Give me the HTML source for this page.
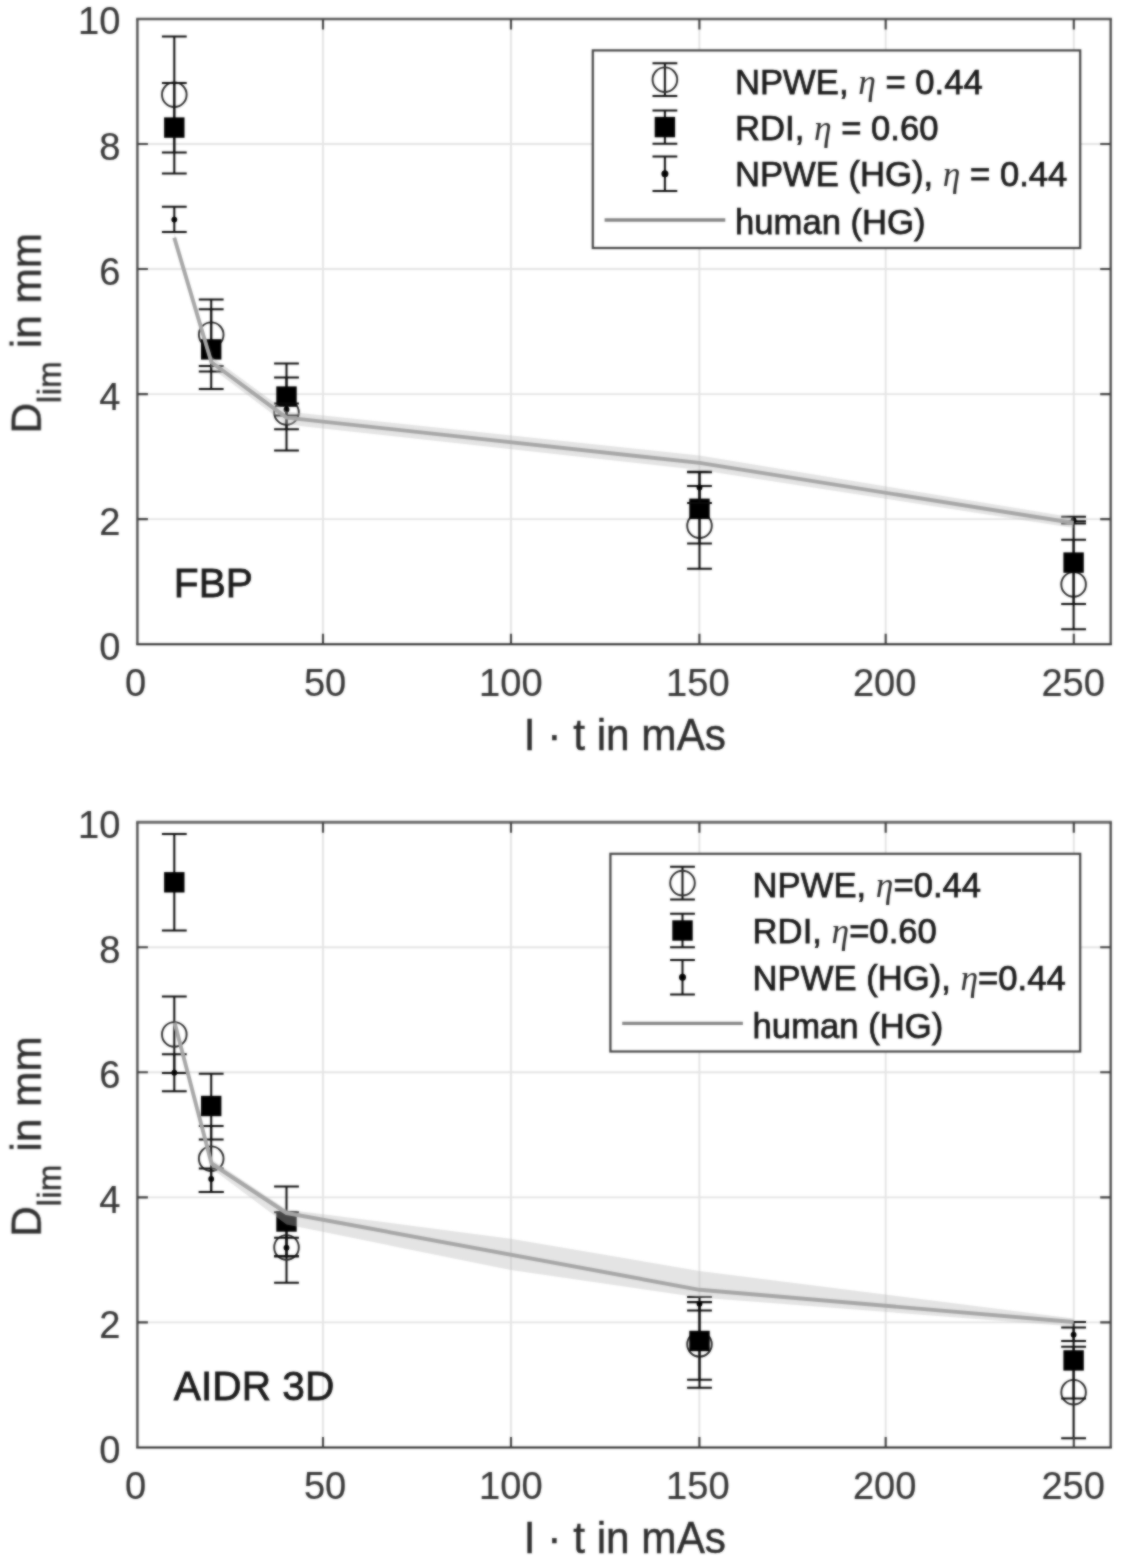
<!DOCTYPE html>
<html lang="en"><head><meta charset="utf-8"><title>Figure</title>
<style>html,body{margin:0;padding:0;background:#fff}svg{display:block}</style>
</head><body>
<svg width="1125" height="1565" viewBox="0 0 1125 1565" font-family="Liberation Sans, sans-serif" fill="#383838">
<defs><filter id="soft" x="0" y="0" width="1125" height="1565" filterUnits="userSpaceOnUse" color-interpolation-filters="sRGB"><feGaussianBlur in="SourceGraphic" stdDeviation="0.9" result="b"/><feComposite in="SourceGraphic" in2="b" operator="arithmetic" k1="0" k2="0.3" k3="0.7" k4="0"/></filter></defs>
<rect width="1125" height="1565" fill="#fff"/>
<g filter="url(#soft)">
<g>
<line x1="323.0" y1="18.9" x2="323.0" y2="644.2" stroke="#e4e4e4" stroke-width="1.9"/>
<line x1="511.0" y1="18.9" x2="511.0" y2="644.2" stroke="#e4e4e4" stroke-width="1.9"/>
<line x1="699.4" y1="18.9" x2="699.4" y2="644.2" stroke="#e4e4e4" stroke-width="1.9"/>
<line x1="885.7" y1="18.9" x2="885.7" y2="644.2" stroke="#e4e4e4" stroke-width="1.9"/>
<line x1="1073.8" y1="18.9" x2="1073.8" y2="644.2" stroke="#e4e4e4" stroke-width="1.9"/>
<line x1="137.4" y1="519.1" x2="1110.7" y2="519.1" stroke="#e4e4e4" stroke-width="1.9"/>
<line x1="137.4" y1="394.1" x2="1110.7" y2="394.1" stroke="#e4e4e4" stroke-width="1.9"/>
<line x1="137.4" y1="269.0" x2="1110.7" y2="269.0" stroke="#e4e4e4" stroke-width="1.9"/>
<line x1="137.4" y1="144.0" x2="1110.7" y2="144.0" stroke="#e4e4e4" stroke-width="1.9"/>
<path d="M174.3 152.4V36.5M161.9 152.4h24.8M161.9 36.5h24.8" stroke="#0a0a0a" stroke-width="2.0" fill="none"/>
<circle cx="174.3" cy="94.7" r="12.3" fill="none" stroke="#2a2a2a" stroke-width="1.9"/>
<path d="M211.2 371.5V299.6M198.8 371.5h24.8M198.8 299.6h24.8" stroke="#0a0a0a" stroke-width="2.0" fill="none"/>
<circle cx="211.2" cy="334.7" r="12.3" fill="none" stroke="#2a2a2a" stroke-width="1.9"/>
<path d="M286.5 450.6V377.4M274.1 450.6h24.8M274.1 377.4h24.8" stroke="#0a0a0a" stroke-width="2.0" fill="none"/>
<circle cx="286.5" cy="412.4" r="12.3" fill="none" stroke="#2a2a2a" stroke-width="1.9"/>
<path d="M699.5 568.7V485.9M687.1 568.7h24.8M687.1 485.9h24.8" stroke="#0a0a0a" stroke-width="2.0" fill="none"/>
<circle cx="699.5" cy="525.7" r="12.3" fill="none" stroke="#2a2a2a" stroke-width="1.9"/>
<path d="M1073.6 629.3V539.8M1061.2 629.3h24.8M1061.2 539.8h24.8" stroke="#0a0a0a" stroke-width="2.0" fill="none"/>
<circle cx="1073.6" cy="584.4" r="12.3" fill="none" stroke="#2a2a2a" stroke-width="1.9"/>
<path d="M174.3 173.6V83.1M161.9 173.6h24.8M161.9 83.1h24.8" stroke="#0a0a0a" stroke-width="2.0" fill="none"/>
<rect x="164.1" y="117.4" width="20.4" height="20.4" fill="#000"/>
<path d="M211.2 388.9V309.2M198.8 388.9h24.8M198.8 309.2h24.8" stroke="#0a0a0a" stroke-width="2.0" fill="none"/>
<rect x="201.0" y="339.2" width="20.4" height="20.4" fill="#000"/>
<path d="M286.5 429.3V363.5M274.1 429.3h24.8M274.1 363.5h24.8" stroke="#0a0a0a" stroke-width="2.0" fill="none"/>
<rect x="276.3" y="386.4" width="20.4" height="20.4" fill="#000"/>
<path d="M699.5 543.5V471.8M687.1 543.5h24.8M687.1 471.8h24.8" stroke="#0a0a0a" stroke-width="2.0" fill="none"/>
<rect x="689.3" y="498.6" width="20.4" height="20.4" fill="#000"/>
<path d="M1073.6 603.9V521.3M1061.2 603.9h24.8M1061.2 521.3h24.8" stroke="#0a0a0a" stroke-width="2.0" fill="none"/>
<rect x="1063.4" y="552.4" width="20.4" height="20.4" fill="#000"/>
<path d="M174.3 231.9V206.7M161.9 231.9h24.8M161.9 206.7h24.8" stroke="#0a0a0a" stroke-width="2.0" fill="none"/>
<circle cx="174.3" cy="219.6" r="2.9" fill="#000"/>
<path d="M211.2 366.1V350.0M198.8 366.1h24.8" stroke="#0a0a0a" stroke-width="2.0" fill="none"/>
<circle cx="211.2" cy="356.0" r="2.9" fill="#000"/>
<path d="M286.5 415.4V403.6M274.1 415.4h24.8M274.1 403.6h24.8" stroke="#0a0a0a" stroke-width="2.0" fill="none"/>
<circle cx="286.5" cy="409.5" r="2.9" fill="#000"/>
<path d="M699.5 503.0V472.2M687.1 503.0h24.8M687.1 472.2h24.8" stroke="#0a0a0a" stroke-width="2.0" fill="none"/>
<circle cx="699.5" cy="487.5" r="2.9" fill="#000"/>
<path d="M1073.6 523.5V516.8M1061.2 523.5h24.8M1061.2 516.8h24.8" stroke="#0a0a0a" stroke-width="2.0" fill="none"/>
<circle cx="1073.6" cy="520.2" r="2.9" fill="#000"/>
<polygon points="174.3,232.5 211.4,356.5 286.5,411.5 699.5,455.5 1073.6,517.5 1073.6,528.0 699.5,470.0 286.5,424.5 211.4,368.0 174.3,243.5" fill="#b8b8b8" fill-opacity="0.38"/>
<polyline points="174.3,237.8 211.4,362.2 286.5,417.6 699.5,462.9 1073.6,523.0" fill="none" stroke="#a6a6a6" stroke-width="3.9" stroke-linejoin="round"/>
<line x1="136.20000000000002" y1="18.9" x2="1111.9" y2="18.9" stroke="#585858" stroke-width="2.5"/>
<line x1="136.20000000000002" y1="644.2" x2="1111.9" y2="644.2" stroke="#262626" stroke-width="2.0"/>
<line x1="137.4" y1="18.9" x2="137.4" y2="644.2" stroke="#505050" stroke-width="2.4"/>
<line x1="1110.7" y1="18.9" x2="1110.7" y2="644.2" stroke="#484848" stroke-width="2.3"/>
<path d="M323.0 644.2v-10.5M323.0 18.9v10.5M511.0 644.2v-10.5M511.0 18.9v10.5M699.4 644.2v-10.5M699.4 18.9v10.5M885.7 644.2v-10.5M885.7 18.9v10.5M1073.8 644.2v-10.5M1073.8 18.9v10.5M137.4 519.1h10.5M1110.7 519.1h-10.5M137.4 394.1h10.5M1110.7 394.1h-10.5M137.4 269.0h10.5M1110.7 269.0h-10.5M137.4 144.0h10.5M1110.7 144.0h-10.5" stroke="#404040" stroke-width="2.1" fill="none"/>
<text transform="translate(135.5 695.5) scale(1 1.04)" stroke="#383838" stroke-width="0.2" font-size="38.1" text-anchor="middle">0</text>
<text transform="translate(325.1 695.5) scale(1 1.04)" stroke="#383838" stroke-width="0.2" font-size="38.1" text-anchor="middle">50</text>
<text transform="translate(510.9 695.5) scale(1 1.04)" stroke="#383838" stroke-width="0.2" font-size="38.1" text-anchor="middle">100</text>
<text transform="translate(697.9 695.5) scale(1 1.04)" stroke="#383838" stroke-width="0.2" font-size="38.1" text-anchor="middle">150</text>
<text transform="translate(884.7 695.5) scale(1 1.04)" stroke="#383838" stroke-width="0.2" font-size="38.1" text-anchor="middle">200</text>
<text transform="translate(1073.2 695.5) scale(1 1.04)" stroke="#383838" stroke-width="0.2" font-size="38.1" text-anchor="middle">250</text>
<text transform="translate(120.5 659.7) scale(1 1.04)" stroke="#383838" stroke-width="0.2" font-size="38.1" text-anchor="end">0</text>
<text transform="translate(120.5 534.6) scale(1 1.04)" stroke="#383838" stroke-width="0.2" font-size="38.1" text-anchor="end">2</text>
<text transform="translate(120.5 409.6) scale(1 1.04)" stroke="#383838" stroke-width="0.2" font-size="38.1" text-anchor="end">4</text>
<text transform="translate(120.5 284.5) scale(1 1.04)" stroke="#383838" stroke-width="0.2" font-size="38.1" text-anchor="end">6</text>
<text transform="translate(120.5 159.5) scale(1 1.04)" stroke="#383838" stroke-width="0.2" font-size="38.1" text-anchor="end">8</text>
<text transform="translate(120.5 34.4) scale(1 1.04)" stroke="#383838" stroke-width="0.2" font-size="38.1" text-anchor="end">10</text>
<text transform="translate(624.9 749.8) scale(1 1.04)" fill="#2e2e2e" stroke="#2e2e2e" stroke-width="0.45" font-size="42.35" text-anchor="middle">I · t in mAs</text>
<text transform="translate(40.7 433.5) rotate(-90) scale(1 1.025)" fill="#2e2e2e" stroke="#2e2e2e" stroke-width="0.45" font-size="42.35">D<tspan dy="19.4" font-size="31.6" letter-spacing="0.55">lim</tspan><tspan dy="-19.4" dx="1.0"> in mm</tspan></text>
<text transform="translate(173.8 596.8) scale(1 1.005)" font-size="40.7" fill="#1c1c1c" stroke="#1c1c1c" stroke-width="0.8">FBP</text>
<rect x="592.8" y="50.4" width="487.4" height="197.6" fill="#fff" stroke="#454545" stroke-width="2.2"/>
<path d="M664.9 96.1V63.3M652.5 96.1h24.8M652.5 63.3h24.8" stroke="#0a0a0a" stroke-width="2.0" fill="none"/>
<circle cx="664.9" cy="79.7" r="12.3" fill="none" stroke="#2a2a2a" stroke-width="1.9"/>
<path d="M664.9 143.8V110.4M652.5 143.8h24.8M652.5 110.4h24.8" stroke="#0a0a0a" stroke-width="2.0" fill="none"/>
<rect x="654.7" y="116.9" width="20.4" height="20.4" fill="#000"/>
<path d="M664.9 191.1V156.5M652.5 191.1h24.8M652.5 156.5h24.8" stroke="#0a0a0a" stroke-width="2.0" fill="none"/>
<circle cx="664.9" cy="173.8" r="3.5" fill="#000"/>
<line x1="604.6" y1="220.0" x2="725.3" y2="220.0" stroke="#868686" stroke-width="3.4"/>
<text transform="translate(735.0 93.6) scale(1 1.0)" font-size="34.65" fill="#1c1c1c" stroke="#1c1c1c" stroke-width="0.75">NPWE, <tspan font-family="Liberation Serif, DejaVu Serif, serif" font-style="italic" font-size="35.5" stroke="none" fill="#303030">η</tspan> = 0.44</text>
<text transform="translate(735.0 139.9) scale(1 1.0)" font-size="34.65" fill="#1c1c1c" stroke="#1c1c1c" stroke-width="0.75">RDI, <tspan font-family="Liberation Serif, DejaVu Serif, serif" font-style="italic" font-size="35.5" stroke="none" fill="#303030">η</tspan> = 0.60</text>
<text transform="translate(735.0 186.2) scale(1 1.0)" font-size="34.65" fill="#1c1c1c" stroke="#1c1c1c" stroke-width="0.75">NPWE (HG), <tspan font-family="Liberation Serif, DejaVu Serif, serif" font-style="italic" font-size="35.5" stroke="none" fill="#303030">η</tspan> = 0.44</text>
<text transform="translate(735.0 234.3) scale(1 1.0)" font-size="34.65" fill="#1c1c1c" stroke="#1c1c1c" stroke-width="0.75">human (HG)</text>
</g>
<g>
<line x1="323.0" y1="822.2" x2="323.0" y2="1447.5" stroke="#e4e4e4" stroke-width="1.9"/>
<line x1="511.0" y1="822.2" x2="511.0" y2="1447.5" stroke="#e4e4e4" stroke-width="1.9"/>
<line x1="699.4" y1="822.2" x2="699.4" y2="1447.5" stroke="#e4e4e4" stroke-width="1.9"/>
<line x1="885.7" y1="822.2" x2="885.7" y2="1447.5" stroke="#e4e4e4" stroke-width="1.9"/>
<line x1="1073.8" y1="822.2" x2="1073.8" y2="1447.5" stroke="#e4e4e4" stroke-width="1.9"/>
<line x1="137.4" y1="1322.4" x2="1110.7" y2="1322.4" stroke="#e4e4e4" stroke-width="1.9"/>
<line x1="137.4" y1="1197.4" x2="1110.7" y2="1197.4" stroke="#e4e4e4" stroke-width="1.9"/>
<line x1="137.4" y1="1072.3" x2="1110.7" y2="1072.3" stroke="#e4e4e4" stroke-width="1.9"/>
<line x1="137.4" y1="947.3" x2="1110.7" y2="947.3" stroke="#e4e4e4" stroke-width="1.9"/>
<path d="M174.3 1073.0V996.4M161.9 1073.0h24.8M161.9 996.4h24.8" stroke="#0a0a0a" stroke-width="2.0" fill="none"/>
<circle cx="174.3" cy="1034.4" r="12.3" fill="none" stroke="#2a2a2a" stroke-width="1.9"/>
<path d="M211.2 1191.9V1126.1M198.8 1191.9h24.8M198.8 1126.1h24.8" stroke="#0a0a0a" stroke-width="2.0" fill="none"/>
<circle cx="211.2" cy="1158.7" r="12.3" fill="none" stroke="#2a2a2a" stroke-width="1.9"/>
<path d="M286.5 1282.8V1212.2M274.1 1282.8h24.8M274.1 1212.2h24.8" stroke="#0a0a0a" stroke-width="2.0" fill="none"/>
<circle cx="286.5" cy="1247.4" r="12.3" fill="none" stroke="#2a2a2a" stroke-width="1.9"/>
<path d="M699.5 1387.7V1301.9M687.1 1387.7h24.8M687.1 1301.9h24.8" stroke="#0a0a0a" stroke-width="2.0" fill="none"/>
<circle cx="699.5" cy="1344.3" r="12.3" fill="none" stroke="#2a2a2a" stroke-width="1.9"/>
<path d="M1073.6 1438.2V1346.7M1061.2 1438.2h24.8M1061.2 1346.7h24.8" stroke="#0a0a0a" stroke-width="2.0" fill="none"/>
<circle cx="1073.6" cy="1392.2" r="12.3" fill="none" stroke="#2a2a2a" stroke-width="1.9"/>
<path d="M174.3 930.6V834.0M161.9 930.6h24.8M161.9 834.0h24.8" stroke="#0a0a0a" stroke-width="2.0" fill="none"/>
<rect x="164.1" y="872.1" width="20.4" height="20.4" fill="#000"/>
<path d="M211.2 1139.5V1073.8M198.8 1139.5h24.8M198.8 1073.8h24.8" stroke="#0a0a0a" stroke-width="2.0" fill="none"/>
<rect x="201.0" y="1095.8" width="20.4" height="20.4" fill="#000"/>
<path d="M286.5 1256.6V1186.4M274.1 1256.6h24.8M274.1 1186.4h24.8" stroke="#0a0a0a" stroke-width="2.0" fill="none"/>
<rect x="276.3" y="1211.3" width="20.4" height="20.4" fill="#000"/>
<path d="M699.5 1379.7V1302.2M687.1 1379.7h24.8M687.1 1302.2h24.8" stroke="#0a0a0a" stroke-width="2.0" fill="none"/>
<rect x="689.3" y="1330.8" width="20.4" height="20.4" fill="#000"/>
<path d="M1073.6 1398.5V1322.0M1061.2 1398.5h24.8M1061.2 1322.0h24.8" stroke="#0a0a0a" stroke-width="2.0" fill="none"/>
<rect x="1063.4" y="1350.2" width="20.4" height="20.4" fill="#000"/>
<path d="M174.3 1091.3V1054.3M161.9 1091.3h24.8M161.9 1054.3h24.8" stroke="#0a0a0a" stroke-width="2.0" fill="none"/>
<circle cx="174.3" cy="1072.7" r="2.9" fill="#000"/>
<path d="M211.2 1191.9V1168.5M198.8 1191.9h24.8M198.8 1168.5h24.8" stroke="#0a0a0a" stroke-width="2.0" fill="none"/>
<circle cx="211.2" cy="1178.9" r="2.9" fill="#000"/>
<path d="M286.5 1256.0V1237.8M274.1 1256.0h24.8M274.1 1237.8h24.8" stroke="#0a0a0a" stroke-width="2.0" fill="none"/>
<circle cx="286.5" cy="1247.7" r="2.9" fill="#000"/>
<path d="M699.5 1310.4V1297.1M687.1 1310.4h24.8M687.1 1297.1h24.8" stroke="#0a0a0a" stroke-width="2.0" fill="none"/>
<circle cx="699.5" cy="1303.8" r="2.9" fill="#000"/>
<path d="M1073.6 1341.0V1327.4M1061.2 1341.0h24.8M1061.2 1327.4h24.8" stroke="#0a0a0a" stroke-width="2.0" fill="none"/>
<circle cx="1073.6" cy="1334.7" r="2.9" fill="#000"/>
<polygon points="174.6,1019.0 211.5,1159.5 286.5,1209.5 510.7,1238.7 699.5,1271.0 1073.6,1318.5 1073.6,1326.5 699.5,1297.5 510.7,1270.0 286.5,1224.5 211.5,1168.5 174.6,1027.0" fill="#b8b8b8" fill-opacity="0.38"/>
<polyline points="174.6,1022.7 211.5,1163.5 286.5,1213.0 699.5,1289.8 1073.6,1322.0" fill="none" stroke="#a6a6a6" stroke-width="3.9" stroke-linejoin="round"/>
<line x1="136.20000000000002" y1="822.2" x2="1111.9" y2="822.2" stroke="#6a6a6a" stroke-width="3.0"/>
<line x1="136.20000000000002" y1="1447.5" x2="1111.9" y2="1447.5" stroke="#262626" stroke-width="2.0"/>
<line x1="137.4" y1="822.2" x2="137.4" y2="1447.5" stroke="#505050" stroke-width="2.4"/>
<line x1="1110.7" y1="822.2" x2="1110.7" y2="1447.5" stroke="#484848" stroke-width="2.3"/>
<path d="M323.0 1447.5v-10.5M323.0 822.2v10.5M511.0 1447.5v-10.5M511.0 822.2v10.5M699.4 1447.5v-10.5M699.4 822.2v10.5M885.7 1447.5v-10.5M885.7 822.2v10.5M1073.8 1447.5v-10.5M1073.8 822.2v10.5M137.4 1322.4h10.5M1110.7 1322.4h-10.5M137.4 1197.4h10.5M1110.7 1197.4h-10.5M137.4 1072.3h10.5M1110.7 1072.3h-10.5M137.4 947.3h10.5M1110.7 947.3h-10.5" stroke="#404040" stroke-width="2.1" fill="none"/>
<text transform="translate(135.5 1498.8) scale(1 1.04)" stroke="#383838" stroke-width="0.2" font-size="38.1" text-anchor="middle">0</text>
<text transform="translate(325.1 1498.8) scale(1 1.04)" stroke="#383838" stroke-width="0.2" font-size="38.1" text-anchor="middle">50</text>
<text transform="translate(510.9 1498.8) scale(1 1.04)" stroke="#383838" stroke-width="0.2" font-size="38.1" text-anchor="middle">100</text>
<text transform="translate(697.9 1498.8) scale(1 1.04)" stroke="#383838" stroke-width="0.2" font-size="38.1" text-anchor="middle">150</text>
<text transform="translate(884.7 1498.8) scale(1 1.04)" stroke="#383838" stroke-width="0.2" font-size="38.1" text-anchor="middle">200</text>
<text transform="translate(1073.2 1498.8) scale(1 1.04)" stroke="#383838" stroke-width="0.2" font-size="38.1" text-anchor="middle">250</text>
<text transform="translate(120.5 1463.0) scale(1 1.04)" stroke="#383838" stroke-width="0.2" font-size="38.1" text-anchor="end">0</text>
<text transform="translate(120.5 1337.9) scale(1 1.04)" stroke="#383838" stroke-width="0.2" font-size="38.1" text-anchor="end">2</text>
<text transform="translate(120.5 1212.9) scale(1 1.04)" stroke="#383838" stroke-width="0.2" font-size="38.1" text-anchor="end">4</text>
<text transform="translate(120.5 1087.8) scale(1 1.04)" stroke="#383838" stroke-width="0.2" font-size="38.1" text-anchor="end">6</text>
<text transform="translate(120.5 962.8) scale(1 1.04)" stroke="#383838" stroke-width="0.2" font-size="38.1" text-anchor="end">8</text>
<text transform="translate(120.5 837.7) scale(1 1.04)" stroke="#383838" stroke-width="0.2" font-size="38.1" text-anchor="end">10</text>
<text transform="translate(624.9 1553.1) scale(1 1.04)" fill="#2e2e2e" stroke="#2e2e2e" stroke-width="0.45" font-size="42.35" text-anchor="middle">I · t in mAs</text>
<text transform="translate(40.7 1236.8) rotate(-90) scale(1 1.025)" fill="#2e2e2e" stroke="#2e2e2e" stroke-width="0.45" font-size="42.35">D<tspan dy="19.4" font-size="31.6" letter-spacing="0.55">lim</tspan><tspan dy="-19.4" dx="1.0"> in mm</tspan></text>
<text transform="translate(173.8 1400.1) scale(1 1.005)" font-size="40.7" fill="#1c1c1c" stroke="#1c1c1c" stroke-width="0.8">AIDR 3D</text>
<rect x="610.4" y="853.8" width="469.8" height="197.7" fill="#fff" stroke="#454545" stroke-width="2.2"/>
<path d="M682.5 899.5V866.7M670.1 899.5h24.8M670.1 866.7h24.8" stroke="#0a0a0a" stroke-width="2.0" fill="none"/>
<circle cx="682.5" cy="883.1" r="12.3" fill="none" stroke="#2a2a2a" stroke-width="1.9"/>
<path d="M682.5 947.2V913.8M670.1 947.2h24.8M670.1 913.8h24.8" stroke="#0a0a0a" stroke-width="2.0" fill="none"/>
<rect x="672.3" y="920.3" width="20.4" height="20.4" fill="#000"/>
<path d="M682.5 994.5V959.9M670.1 994.5h24.8M670.1 959.9h24.8" stroke="#0a0a0a" stroke-width="2.0" fill="none"/>
<circle cx="682.5" cy="977.2" r="3.5" fill="#000"/>
<line x1="622.2" y1="1023.4" x2="742.9" y2="1023.4" stroke="#868686" stroke-width="3.4"/>
<text transform="translate(752.6 897.0) scale(1 1.0)" font-size="34.65" fill="#1c1c1c" stroke="#1c1c1c" stroke-width="0.75">NPWE, <tspan font-family="Liberation Serif, DejaVu Serif, serif" font-style="italic" font-size="35.5" stroke="none" fill="#303030">η</tspan>=0.44</text>
<text transform="translate(752.6 943.3) scale(1 1.0)" font-size="34.65" fill="#1c1c1c" stroke="#1c1c1c" stroke-width="0.75">RDI, <tspan font-family="Liberation Serif, DejaVu Serif, serif" font-style="italic" font-size="35.5" stroke="none" fill="#303030">η</tspan>=0.60</text>
<text transform="translate(752.6 989.6) scale(1 1.0)" font-size="34.65" fill="#1c1c1c" stroke="#1c1c1c" stroke-width="0.75">NPWE (HG), <tspan font-family="Liberation Serif, DejaVu Serif, serif" font-style="italic" font-size="35.5" stroke="none" fill="#303030">η</tspan>=0.44</text>
<text transform="translate(752.6 1037.7) scale(1 1.0)" font-size="34.65" fill="#1c1c1c" stroke="#1c1c1c" stroke-width="0.75">human (HG)</text>
</g>
</g>
</svg>
</body></html>
